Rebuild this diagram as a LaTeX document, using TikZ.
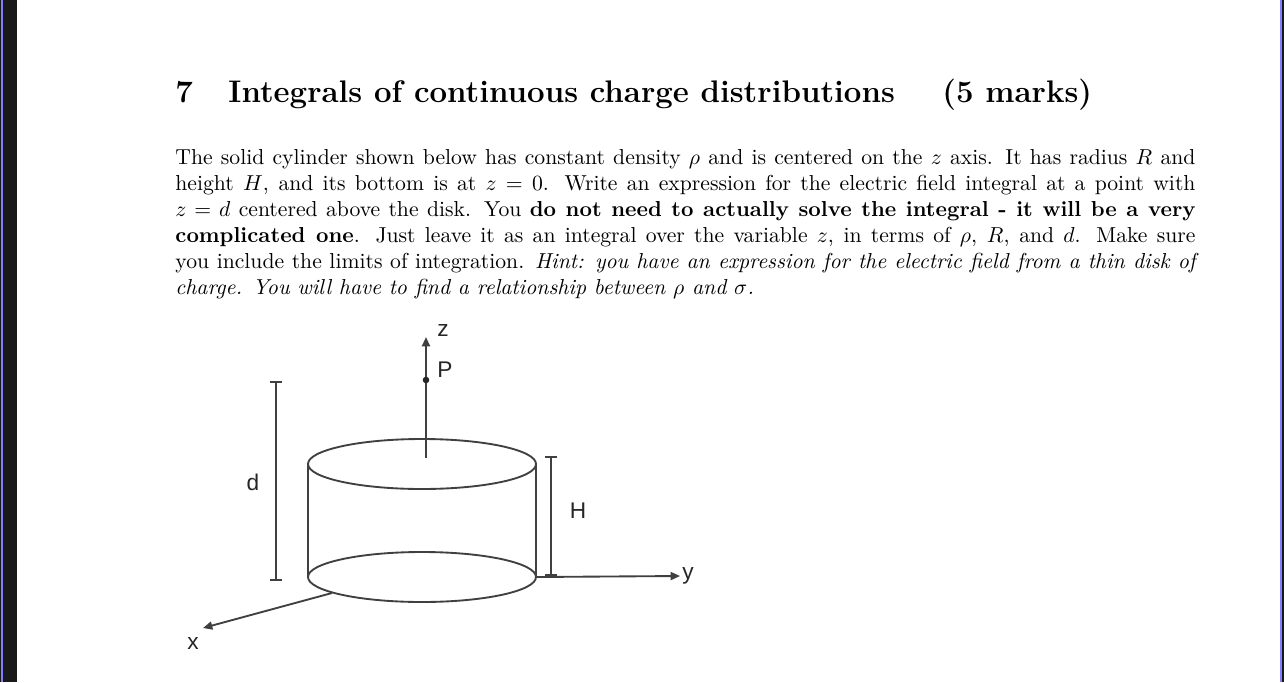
\documentclass[tikz,border=0pt]{standalone}
\usepackage{fontspec}
\newfontfamily\lab{Liberation Sans}
\usetikzlibrary{arrows.meta}
\begin{document}
\begin{tikzpicture}[x=0.75pt,y=-0.75pt,
  ln/.style={line width=1.4pt,draw=black!75},
  lbl/.style={font=\lab\fontsize{17}{19}\selectfont,inner sep=0pt,text=black!85},
  tip/.style={-{Triangle[length=7pt,width=6pt]}},
  bar/.style={{Bar[width=9pt]}-{Bar[width=9pt]}}]
\useasboundingbox (0,0) rectangle (1284,682);
\fill[white] (0,0) rectangle (1284,682);
\fill[black!90] (0,0) rectangle (17,682);
\fill[black!90] (1281,0) rectangle (1284,682);
\draw[line width=1.2pt,blue!50] (2,0) -- (2,682);
\draw[line width=1.5pt,blue!50] (1280.5,0) -- (1280.5,682);
% title
\begin{scope}[every node/.style={scale=1.625,transform shape,inner sep=0pt}]
\node[anchor=base west,font=\Large\bfseries] (num) at (175,102) {7};
\node[anchor=base west,font=\Large\bfseries] (ttl) at (228,102) {Integrals of continuous charge distributions};
\node[anchor=base west,font=\Large\bfseries] (mk) at (942,102) {(5 marks)};
\node[anchor=north west,text width=470.8pt,align=justify,font=\normalsize] (par) at (175,149)
{The solid cylinder shown below has constant density $\rho$ and is centered on the $z$ axis. It has radius $R$ and height $H$, and its bottom is at $z=0$. Write an expression for the electric field integral at a point with $z=d$ centered above the disk. You \textbf{do not need to actually solve the integral - it will be a very complicated one}. Just leave it as an integral over the variable $z$, in terms of $\rho$, $R$, and $d$. Make sure\linebreak{} you include the limits of integration. \textit{Hint: you have an expression for the electric field from a thin disk of charge. You will have to find a relationship between $\rho$ and $\sigma$.}};
\end{scope}
% diagram
\coordinate (tc) at (422,464);
\coordinate (bc) at (422,577);
\coordinate (tl) at (308,464);
\coordinate (tr) at (536,464);
\coordinate (bl) at (308,577);
\coordinate (br) at (536,577);
\draw[ln] (tc) ellipse [x radius=114, y radius=25];
\draw[ln] (bc) ellipse [x radius=114, y radius=25];
\draw[ln] (tl) -- (bl);
\draw[ln] (tr) -- (br);
\coordinate (z0) at (426,458);
\coordinate (ztip) at (426,337);
\draw[ln,tip] (z0) -- (ztip);
\fill[black!85] (426,380) circle (3.3);
\node[lbl,anchor=west] (zl) at (437,331) {z};
\node[lbl,anchor=west] (pl) at (437,370) {P};
\coordinate (dt) at (276,381);
\coordinate (db) at (276,581);
\draw[ln,bar] (dt) -- (db);
\node[lbl] (dl) at (253,482) {d};
\coordinate (ht) at (551,456);
\coordinate (hb) at (551,576);
\draw[ln,bar] (ht) -- (hb);
\node[lbl] (hl) at (578,511) {H};
\coordinate (ytip) at (680,576);
\draw[ln,tip] (br) -- (ytip);
\node[lbl,anchor=west] (yl) at (682,576) {y};
\coordinate (x0) at (332,593);
\coordinate (xtip) at (203,628);
\draw[ln,tip] (x0) -- (xtip);
\node[lbl] (xl) at (193,644) {x};
\end{tikzpicture}
\end{document}
